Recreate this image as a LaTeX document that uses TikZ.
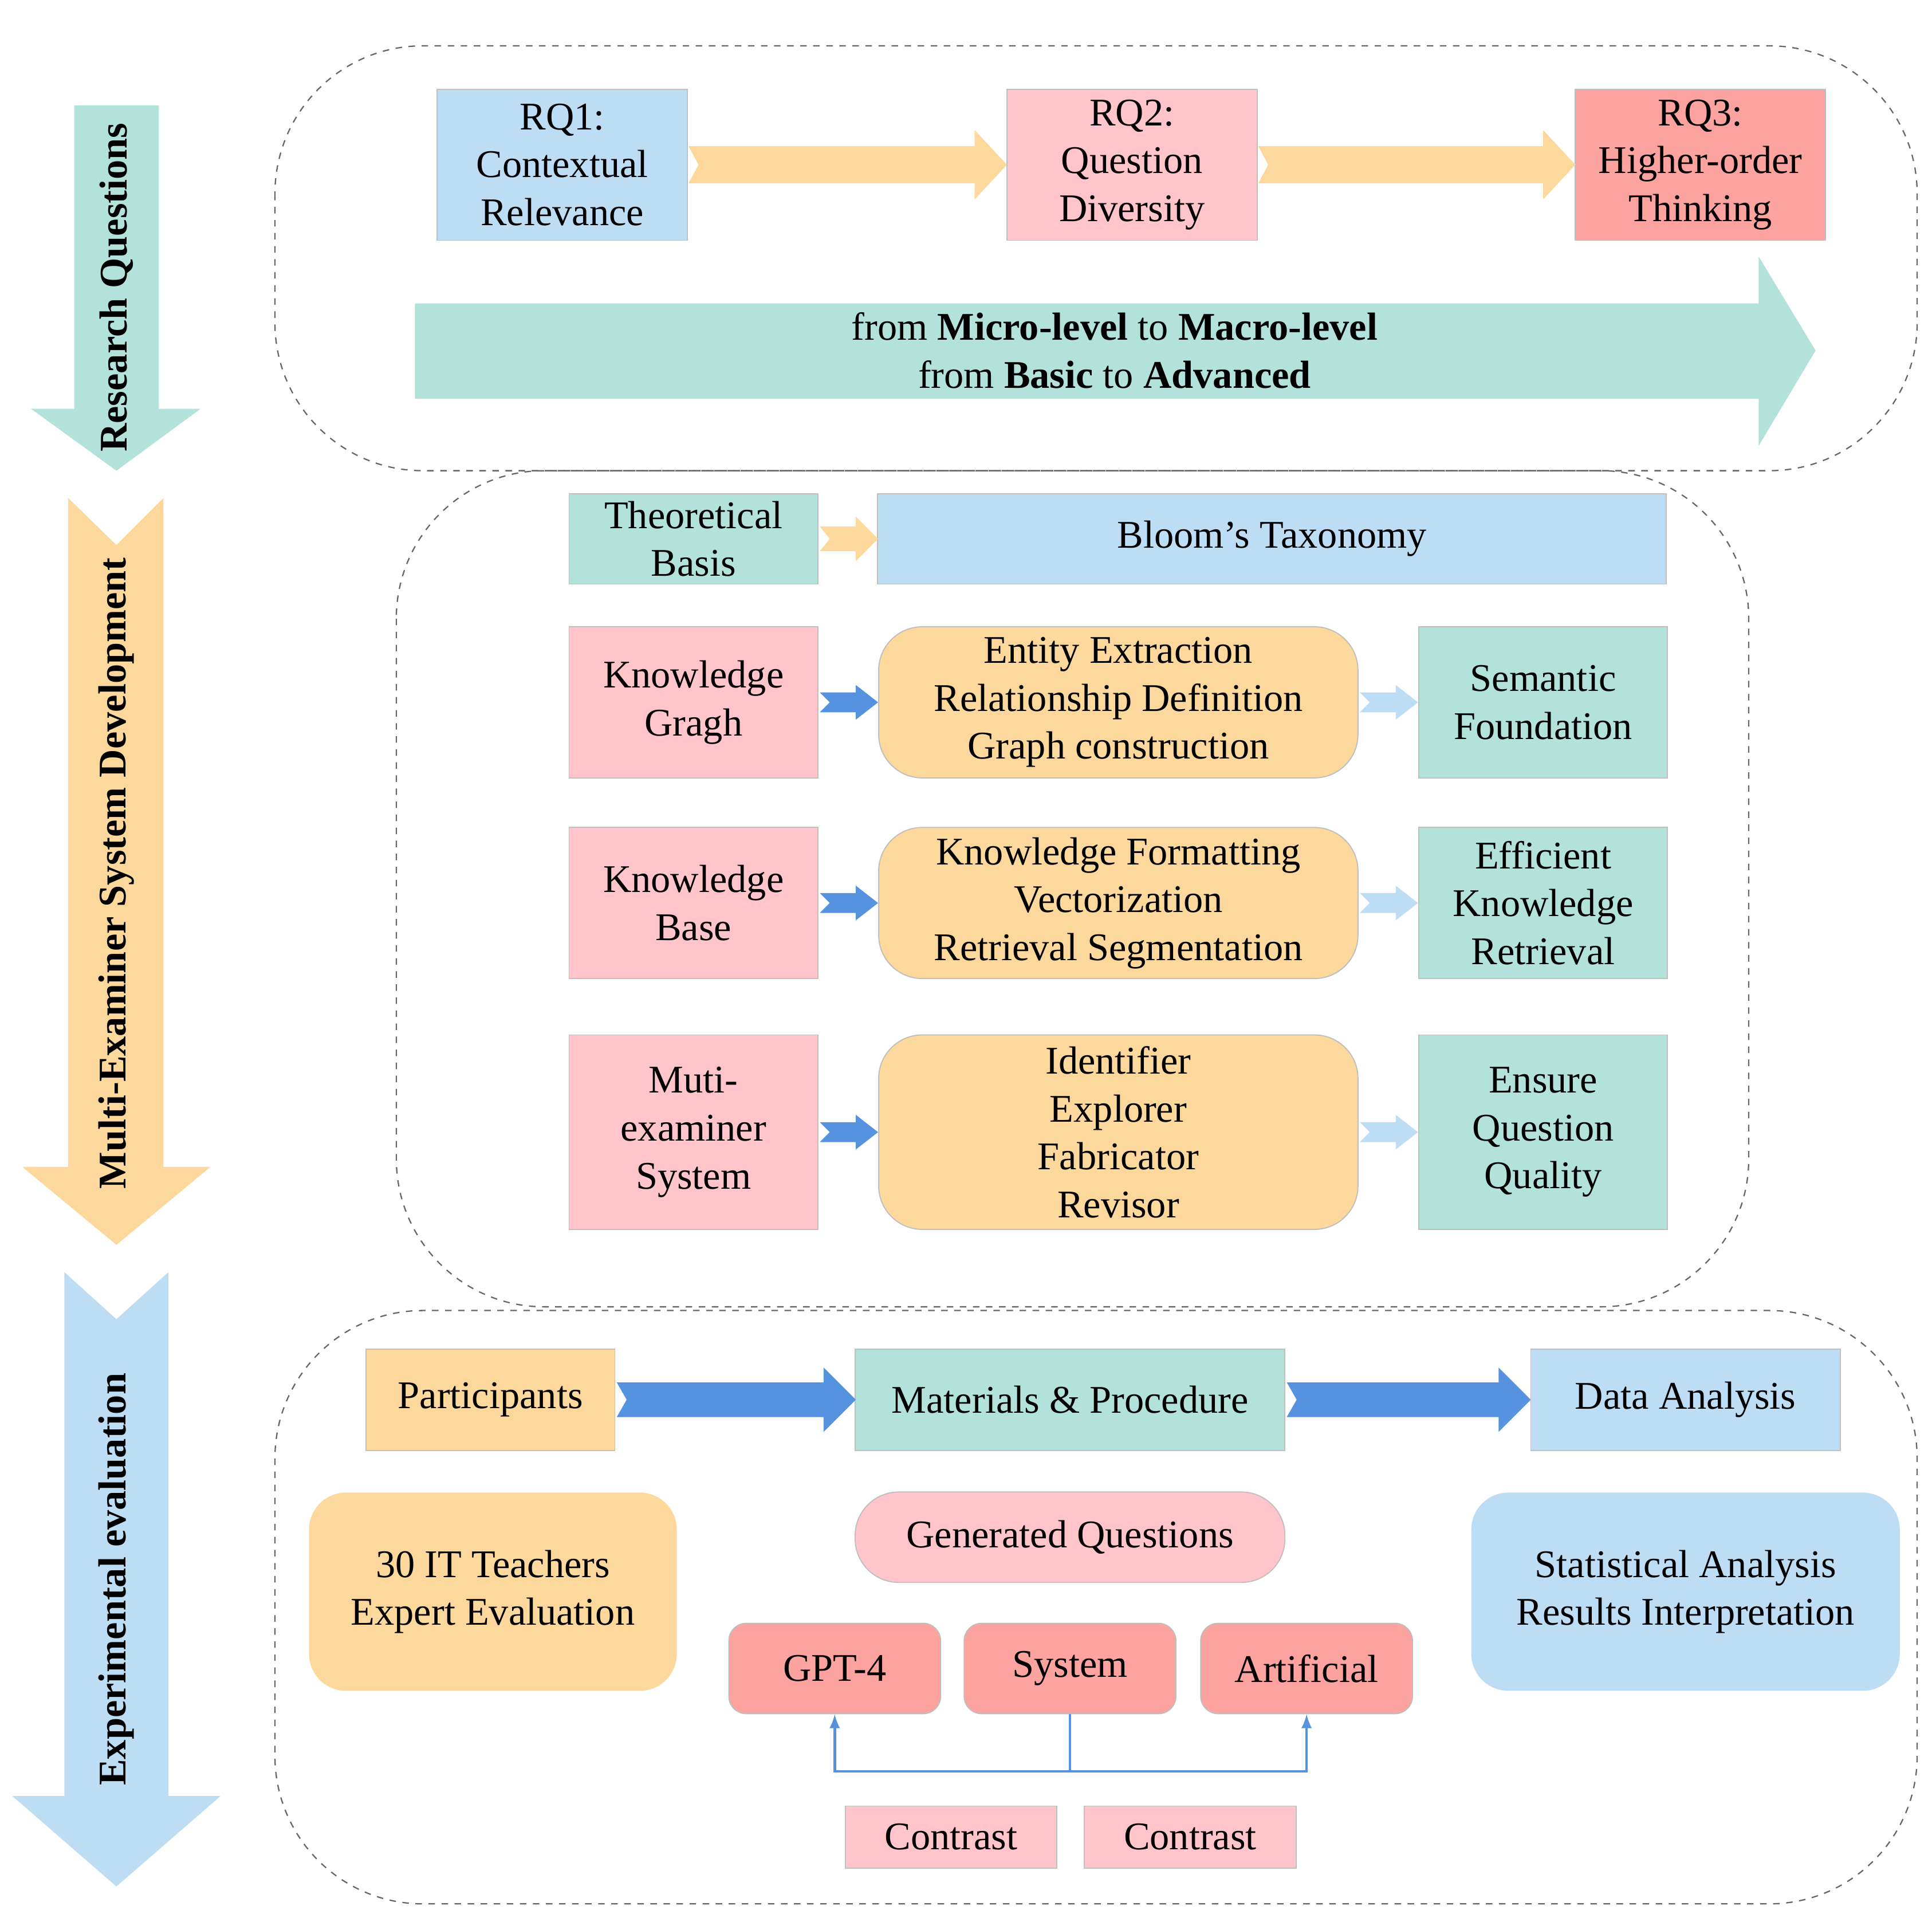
\documentclass[tikz,border=0pt]{standalone}
\usepackage{fontspec}
\setmainfont{Liberation Serif}
\definecolor{cblue}{HTML}{BDDDF5}
\definecolor{cpink}{HTML}{FFC5CB}
\definecolor{csal}{HTML}{FCA3A0}
\definecolor{corg}{HTML}{FDD89C}
\definecolor{cteal}{HTML}{B2E2D9}
\definecolor{cdblue}{HTML}{5592E0}
\definecolor{clblue}{HTML}{BDDDF5}
\newcommand{\fatarr}[7]{% x1 x2 yc halfshaft halfhead headlen color
  \fill[#7] (#1,#3-#4) -- (#2-#6,#3-#4) -- (#2-#6,#3-#5) -- (#2,#3) -- (#2-#6,#3+#5) -- (#2-#6,#3+#4) -- (#1,#3+#4) -- (#1+8,#3) -- cycle;}
\begin{document}
\begin{tikzpicture}[x=0.02cm,y=-0.02cm,
  every node/.style={font=\fontsize{18}{22}\selectfont},
  box/.style={draw=black!25,line width=0.5pt,align=center,inner sep=0pt},
  grp/.style={draw=black!60,dashed,line width=0.6pt,rounded corners=68pt},
  rbox/.style={box,rounded corners=12pt}]
\useasboundingbox (0,0) rectangle (1560,1545);
% groups
\draw[grp] (222,37) rectangle (1548,380);
\draw[grp] (320,380) rectangle (1412,1055);
\draw[grp] (222,1058) rectangle (1548,1537);
% left arrows
\fill[cteal] (60,85) -- (128,85) -- (128,330) -- (162,330) -- (94,380) -- (25,330) -- (60,330) -- cycle;
\node[rotate=90,font=\fontsize{18}{22}\selectfont\bfseries] (lrq) at (94,232) {Research Questions};
\fill[corg] (55,402) -- (94,440) -- (132,402) -- (132,942) -- (170,942) -- (94,1005) -- (18,942) -- (55,942) -- cycle;
\node[rotate=90,font=\fontsize{18}{22}\selectfont\bfseries] (lmx) at (94,705) {Multi-Examiner System Development};
\fill[clblue] (52,1027) -- (94,1065) -- (136,1027) -- (136,1450) -- (178,1450) -- (94,1523) -- (10,1450) -- (52,1450) -- cycle;
\node[rotate=90,font=\fontsize{18}{22}\selectfont\bfseries] (lex) at (94,1275) {Experimental evaluation};
% RQ
\node[box,fill=cblue,minimum width=202*0.02cm,minimum height=122*0.02cm] (rq1) at (454,133) {RQ1:\\Contextual\\Relevance};
\node[box,fill=cpink,minimum width=202*0.02cm,minimum height=122*0.02cm] (rq2) at (914,133) {RQ2:\\Question\\Diversity};
\node[box,fill=csal,minimum width=202*0.02cm,minimum height=122*0.02cm] (rq3) at (1373,133) {RQ3:\\Higher-order\\Thinking};
\fatarr{556}{813}{133}{15}{28}{26}{corg}
\fatarr{1016}{1272}{133}{15}{28}{26}{corg}
\fill[cteal] (335,245) -- (1420,245) -- (1420,207) -- (1466,283) -- (1420,360) -- (1420,322) -- (335,322) -- cycle;
\node[align=center] (mm) at (900,283) {from \textbf{Micro-level} to \textbf{Macro-level}\\from \textbf{Basic} to \textbf{Advanced}};
% middle
\node[box,fill=cteal,minimum width=201*0.02cm,minimum height=73*0.02cm] (tb) at (560,435) {Theoretical\\Basis};
\node[box,fill=cblue,minimum width=637*0.02cm,minimum height=73*0.02cm] (bt) at (1027,435) {Bloom's Taxonomy};
\fatarr{662}{709}{435}{10}{18}{18}{corg}
\foreach \y/\h/\a/\b/\c [count=\i] in {567/122/{Knowledge\\Gragh}/{Entity Extraction\\Relationship Definition\\Graph construction}/{Semantic\\Foundation},
  729/122/{Knowledge\\Base}/{Knowledge Formatting\\Vectorization\\Retrieval Segmentation}/{Efficient\\Knowledge\\Retrieval},
  914/157/{Muti-\\examiner\\System}/{Identifier\\Explorer\\Fabricator\\Revisor}/{Ensure\\Question\\Quality}}{
  \node[box,fill=cteal,minimum width=201*0.02cm,minimum height=\h*0.02cm] (t\i) at (1246,\y) {\c};
  \node[box,fill=cpink,minimum width=201*0.02cm,minimum height=\h*0.02cm] (p\i) at (560,\y) {\a};
  \node[rbox,rounded corners=20pt,fill=corg,minimum width=387*0.02cm,minimum height=\h*0.02cm] (o\i) at (903,\y) {\b};
  \fatarr{662}{709}{\y}{8}{14}{18}{cdblue}
  \fatarr{1098}{1145}{\y}{8}{14}{18}{clblue}
}
% bottom
\node[box,fill=corg,minimum width=201*0.02cm,minimum height=82*0.02cm] (pa) at (396,1130) {Participants};
\node[box,fill=cteal,minimum width=347*0.02cm,minimum height=82*0.02cm] (ma) at (864,1130) {Materials \& Procedure};
\node[box,fill=cblue,minimum width=250*0.02cm,minimum height=82*0.02cm] (da) at (1361,1130) {Data Analysis};
\fatarr{498}{691}{1130}{14}{26}{26}{cdblue}
\fatarr{1039}{1236}{1130}{14}{26}{26}{cdblue}
\node[rbox,rounded corners=17pt,fill=corg,draw=none,minimum width=297*0.02cm,minimum height=160*0.02cm] (it) at (398,1285) {30 IT Teachers\\Expert Evaluation};
\node[rbox,rounded corners=20pt,fill=cpink,minimum width=347*0.02cm,minimum height=73*0.02cm] (gq) at (864,1241) {Generated Questions};
\node[rbox,rounded corners=17pt,fill=cblue,draw=none,minimum width=346*0.02cm,minimum height=160*0.02cm] (sa) at (1361,1285) {Statistical Analysis\\Results Interpretation};
\node[rbox,rounded corners=8pt,fill=csal,minimum width=171*0.02cm,minimum height=73*0.02cm] (g4) at (674,1347) {GPT-4};
\node[rbox,rounded corners=8pt,fill=csal,minimum width=171*0.02cm,minimum height=73*0.02cm] (sy) at (864,1347) {System};
\node[rbox,rounded corners=8pt,fill=csal,minimum width=171*0.02cm,minimum height=73*0.02cm] (ar) at (1055,1347) {Artificial};
\coordinate (j) at (864,1430);
\draw[cdblue,line width=1.2pt] (sy.south) -- (j);
\draw[cdblue,line width=1.2pt,-latex] (j) -| (g4.south);
\draw[cdblue,line width=1.2pt,-latex] (j) -| (ar.south);
\node[box,fill=cpink,minimum width=171*0.02cm,minimum height=50*0.02cm] (c1) at (768,1483) {Contrast};
\node[box,fill=cpink,minimum width=171*0.02cm,minimum height=50*0.02cm] (c2) at (961,1483) {Contrast};
\end{tikzpicture}
\end{document}
